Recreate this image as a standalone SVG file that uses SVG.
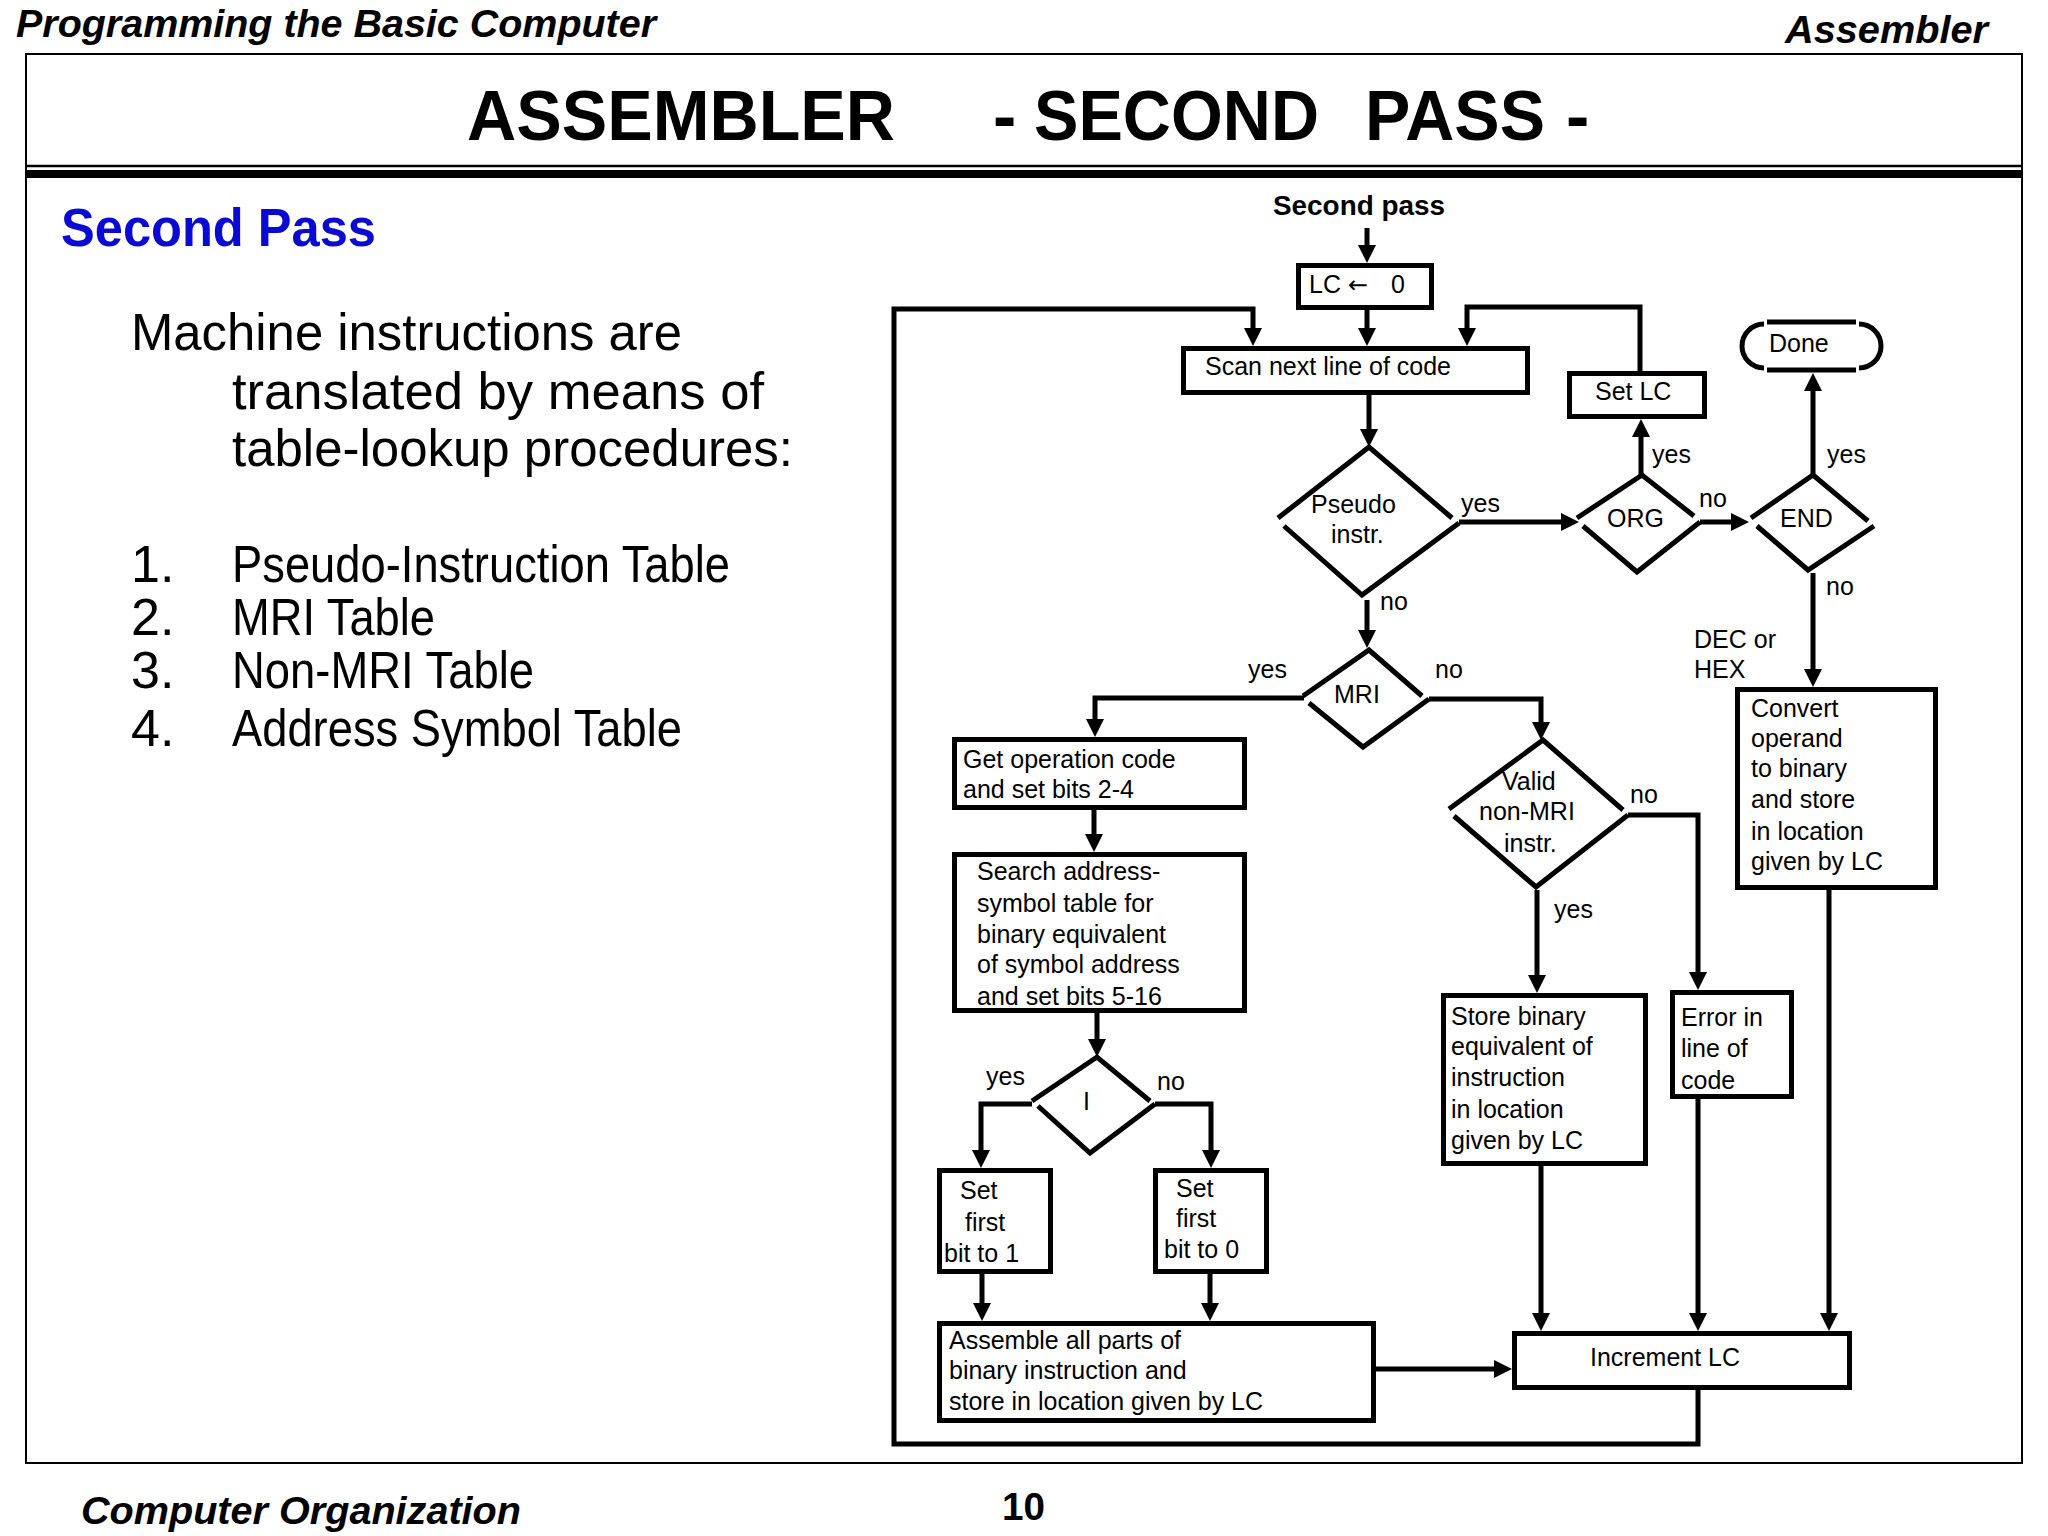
<svg xmlns="http://www.w3.org/2000/svg" width="2048" height="1536" viewBox="0 0 2048 1536">
<defs>
<style>
text{font-family:"Liberation Sans",Arial,sans-serif;fill:#000}
.hdr{font-size:38px;font-weight:bold;font-style:italic}
.ttl{font-size:70px;font-weight:bold}
.sub{font-size:54px;font-weight:bold;fill:#0a0ad2}
.body{font-size:52px}
.ft{font-size:25px}
.lbl{font-size:25px}
.box{fill:#fff;stroke:#000;stroke-width:5}
.dia{fill:none;stroke:#000;stroke-width:5;stroke-linejoin:miter}
.con{fill:none;stroke:#000;stroke-width:5;stroke-linejoin:miter}
.arr{marker-end:url(#ah)}
</style>
<marker id="ah" viewBox="0 0 18 18" refX="8" refY="9" markerWidth="18" markerHeight="18" markerUnits="userSpaceOnUse" orient="auto">
<path d="M0,0 L18,9 L0,18 z" fill="#000"/>
</marker>
</defs>
<rect x="0" y="0" width="2048" height="1536" fill="#fff"/>
<g id="header">
<text class="hdr" x="16" y="37" textLength="640" lengthAdjust="spacingAndGlyphs">Programming the Basic Computer</text>
<text class="hdr" x="1785" y="43" textLength="203" lengthAdjust="spacingAndGlyphs">Assembler</text>
<rect x="26" y="54" width="1996" height="1409" fill="none" stroke="#000" stroke-width="2"/>
<line x1="26" y1="166" x2="2022" y2="166" stroke="#000" stroke-width="2.5"/>
<rect x="26" y="170" width="1996" height="8" fill="#000"/>
<text class="ttl" x="467" y="140" textLength="428" lengthAdjust="spacingAndGlyphs">ASSEMBLER</text>
<text class="ttl" x="993" y="140">-</text>
<text class="ttl" x="1034" y="140" textLength="285" lengthAdjust="spacingAndGlyphs">SECOND</text>
<text class="ttl" x="1365" y="140" textLength="180" lengthAdjust="spacingAndGlyphs">PASS</text>
<text class="ttl" x="1566" y="140">-</text>
</g>
<g id="left-text">
<text class="sub" x="61" y="246" textLength="315" lengthAdjust="spacingAndGlyphs">Second Pass</text>
<text class="body" x="131" y="350" textLength="551" lengthAdjust="spacingAndGlyphs">Machine instructions are</text>
<text class="body" x="232" y="409" textLength="532" lengthAdjust="spacingAndGlyphs">translated  by means of</text>
<text class="body" x="232" y="466" textLength="561" lengthAdjust="spacingAndGlyphs">table-lookup procedures:</text>
<text class="body" x="131" y="582">1.</text>
<text class="body" x="232" y="582" textLength="498" lengthAdjust="spacingAndGlyphs">Pseudo-Instruction Table</text>
<text class="body" x="131" y="635">2.</text>
<text class="body" x="232" y="635" textLength="203" lengthAdjust="spacingAndGlyphs">MRI Table</text>
<text class="body" x="131" y="688">3.</text>
<text class="body" x="232" y="688" textLength="302" lengthAdjust="spacingAndGlyphs">Non-MRI Table</text>
<text class="body" x="131" y="746">4.</text>
<text class="body" x="232" y="746" textLength="450" lengthAdjust="spacingAndGlyphs">Address Symbol Table</text>
</g>
<g id="footer">
<text class="hdr" x="81" y="1524" textLength="440" lengthAdjust="spacingAndGlyphs">Computer Organization</text>
<text x="1002" y="1520" style="font-size:38px;font-weight:bold" textLength="43" lengthAdjust="spacingAndGlyphs">10</text>
</g>
<g id="connectors">
<path class="con arr" d="M1367,228 L1367,253"/>
<path class="con arr" d="M1367,310 L1367,336"/>
<path class="con arr" d="M1698,1390 L1698,1444 L894,1444 L894,309 L1253,309 L1253,336"/>
<path class="con arr" d="M1640,371 L1640,307 L1467,307 L1467,336"/>
<path class="con arr" d="M1369,395 L1369,437"/>
<path class="con arr" d="M1459,522 L1569,522"/>
<path class="con arr" d="M1641,475 L1641,429"/>
<path class="con arr" d="M1700,522 L1739,522"/>
<path class="con arr" d="M1813,475 L1813,383"/>
<path class="con arr" d="M1813,573 L1813,677"/>
<path class="con arr" d="M1367,600 L1367,638"/>
<path class="con arr" d="M1304,698 L1095,698 L1095,727"/>
<path class="con arr" d="M1429,699 L1541,699 L1541,730"/>
<path class="con arr" d="M1094,810 L1094,842"/>
<path class="con arr" d="M1097,1013 L1097,1047"/>
<path class="con arr" d="M1032,1104 L981,1104 L981,1158"/>
<path class="con arr" d="M1155,1104 L1211,1104 L1211,1158"/>
<path class="con arr" d="M982,1274 L982,1311"/>
<path class="con arr" d="M1210,1274 L1210,1311"/>
<path class="con arr" d="M1376,1369 L1502,1369"/>
<path class="con arr" d="M1537,890 L1537,983"/>
<path class="con arr" d="M1628,815 L1698,815 L1698,980"/>
<path class="con arr" d="M1541,1166 L1541,1321"/>
<path class="con arr" d="M1698,1099 L1698,1321"/>
<path class="con arr" d="M1829,890 L1829,1321"/>
<text class="lbl" x="1461" y="512">yes</text>
<text class="lbl" x="1652" y="463">yes</text>
<text class="lbl" x="1699" y="507">no</text>
<text class="lbl" x="1827" y="463">yes</text>
<text class="lbl" x="1826" y="595">no</text>
<text class="lbl" x="1380" y="610">no</text>
<text class="lbl" x="1694" y="648">DEC or</text>
<text class="lbl" x="1694" y="678">HEX</text>
<text class="lbl" x="1248" y="678">yes</text>
<text class="lbl" x="1435" y="678">no</text>
<text class="lbl" x="1630" y="803">no</text>
<text class="lbl" x="1554" y="918">yes</text>
<text class="lbl" x="986" y="1085">yes</text>
<text class="lbl" x="1157" y="1090">no</text>
</g>
<g id="n-start"><text x="1273" y="215" style="font-size:27px;font-weight:bold" textLength="172" lengthAdjust="spacingAndGlyphs">Second pass</text></g>
<g id="n-lc0"><rect class="box" x="1298.5" y="265.5" width="133" height="42"/><text class="ft" x="1309" y="293">LC <tspan style="font-family:'DejaVu Sans',sans-serif;font-size:24px">←</tspan><tspan x="1391">0</tspan></text></g>
<g id="n-scan"><rect class="box" x="1183.5" y="348.5" width="344" height="44"/><text class="ft" x="1205" y="375">Scan next line of code</text></g>
<g id="n-setlc"><rect class="box" x="1569.5" y="373.5" width="135" height="43"/><text class="ft" x="1595" y="400">Set LC</text></g>
<g id="n-done">
<path class="dia" d="M1767,322 L1856,322 M1767,370 L1856,370"/>
<path class="dia" d="M1764,324 A22 22 0 0 0 1764,368 M1859,324 A22 22 0 0 1 1859,368"/>
<text class="ft" x="1769" y="352">Done</text>
</g>
<g id="n-pseudo"><path class="dia" d="M1278,518 L1369,447 L1452,518 M1284,526 L1362,595 L1459,523"/><text class="ft" x="1311" y="513">Pseudo</text><text class="ft" x="1331" y="543">instr.</text></g>
<g id="n-org"><path class="dia" d="M1577,518 L1642,475 L1694,516 M1583,526 L1637,572 L1700,522"/><text class="ft" x="1607" y="527">ORG</text></g>
<g id="n-end"><path class="dia" d="M1751,518 L1813,475 L1868,521 M1757,526 L1808,570 L1874,526"/><text class="ft" x="1780" y="527">END</text></g>
<g id="n-mri"><path class="dia" d="M1303,696 L1369,650 L1422,696 M1309,703 L1363,747 L1429,699"/><text class="ft" x="1334" y="703">MRI</text></g>
<g id="n-valid"><path class="dia" d="M1449,809 L1543,740 L1623,810 M1454,816 L1536,887 L1628,815"/><text class="ft" x="1502" y="790">Valid</text><text class="ft" x="1479" y="820">non-MRI</text><text class="ft" x="1504" y="852">instr.</text></g>
<g id="n-getop"><rect class="box" x="954.5" y="739.5" width="290" height="68"/><text class="ft" x="963" y="768">Get operation code</text><text class="ft" x="963" y="798">and set bits 2-4</text></g>
<g id="n-search"><rect class="box" x="954.5" y="854.5" width="290" height="156"/>
<text class="ft" x="977" y="880">Search address-</text><text class="ft" x="977" y="912">symbol table for</text><text class="ft" x="977" y="943">binary equivalent</text><text class="ft" x="977" y="973">of symbol address</text><text class="ft" x="977" y="1005">and set bits 5-16</text></g>
<g id="n-i"><path class="dia" d="M1032,1101 L1097,1057 L1150,1101 M1038,1106 L1090,1153 L1155,1104"/><text class="ft" x="1083" y="1110">I</text></g>
<g id="n-set1"><rect class="box" x="939.5" y="1170.5" width="111" height="101"/><text class="ft" x="960" y="1199">Set</text><text class="ft" x="965" y="1231">first</text><text class="ft" x="944" y="1262">bit to 1</text></g>
<g id="n-set0"><rect class="box" x="1155.5" y="1170.5" width="111" height="101"/><text class="ft" x="1176" y="1197">Set</text><text class="ft" x="1176" y="1227">first</text><text class="ft" x="1164" y="1258">bit to 0</text></g>
<g id="n-assemble"><rect class="box" x="939.5" y="1323.5" width="434" height="97"/><text class="ft" x="949" y="1349">Assemble all parts of</text><text class="ft" x="949" y="1379">binary instruction and</text><text class="ft" x="949" y="1410">store in location given by LC</text></g>
<g id="n-store"><rect class="box" x="1443.5" y="995.5" width="202" height="168"/><text class="ft" x="1451" y="1025">Store binary</text><text class="ft" x="1451" y="1055">equivalent of</text><text class="ft" x="1451" y="1086">instruction</text><text class="ft" x="1451" y="1118">in location</text><text class="ft" x="1451" y="1149">given by LC</text></g>
<g id="n-error"><rect class="box" x="1672.5" y="992.5" width="119" height="104"/><text class="ft" x="1681" y="1026">Error in</text><text class="ft" x="1681" y="1057">line of</text><text class="ft" x="1681" y="1089">code</text></g>
<g id="n-convert"><rect class="box" x="1737.5" y="689.5" width="198" height="198"/><text class="ft" x="1751" y="717">Convert</text><text class="ft" x="1751" y="747">operand</text><text class="ft" x="1751" y="777">to binary</text><text class="ft" x="1751" y="808">and store</text><text class="ft" x="1751" y="840">in location</text><text class="ft" x="1751" y="870">given by LC</text></g>
<g id="n-inc"><rect class="box" x="1514.5" y="1333.5" width="335" height="54"/><text class="ft" x="1590" y="1366">Increment LC</text></g>
</svg>
